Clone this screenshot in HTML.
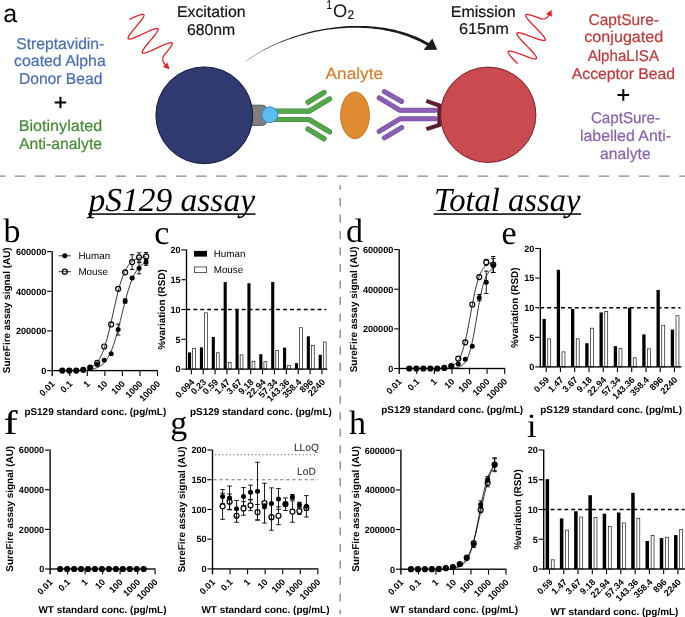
<!DOCTYPE html>
<html><head><meta charset="utf-8"><title>AlphaLISA assay figure</title>
<style>html,body{margin:0;padding:0;background:#fff;}svg{display:block;}</style></head><body>
<svg width="685" height="617" viewBox="0 0 685 617" font-family="'Liberation Sans', Arial, Helvetica, sans-serif" text-rendering="geometricPrecision">
<rect width="685" height="617" fill="#fff"/>
<text x="3.30" y="21.60" font-size="25" fill="#000">a</text>
<text x="16.30" y="48.70" font-size="15.7" fill="#4a6fb4" textLength="88.00" lengthAdjust="spacingAndGlyphs" stroke="#4a6fb4" stroke-width="0.22">Streptavidin-</text>
<text x="14.10" y="66.20" font-size="15.7" fill="#4a6fb4" textLength="91.60" lengthAdjust="spacingAndGlyphs" stroke="#4a6fb4" stroke-width="0.22">coated Alpha</text>
<text x="18.90" y="83.70" font-size="15.7" fill="#4a6fb4" textLength="83.50" lengthAdjust="spacingAndGlyphs" stroke="#4a6fb4" stroke-width="0.22">Donor Bead</text>
<text x="18.70" y="130.80" font-size="15.7" fill="#468a34" textLength="83.50" lengthAdjust="spacingAndGlyphs" stroke="#468a34" stroke-width="0.22">Biotinylated</text>
<text x="19.00" y="148.70" font-size="15.7" fill="#468a34" textLength="83.00" lengthAdjust="spacingAndGlyphs" stroke="#468a34" stroke-width="0.22">Anti-analyte</text>
<path d="M54.7,102.5h11.5M60.45,96.7v11.6" stroke="#000" stroke-width="2.0" fill="none"/>
<path d="M617.5,94.9h11.6M623.3,89.1v11.6" stroke="#000" stroke-width="2.0" fill="none"/>
<text x="176.90" y="17.10" font-size="15.7" fill="#151515" textLength="68.80" lengthAdjust="spacingAndGlyphs" stroke="#151515" stroke-width="0.22">Excitation</text>
<text x="187.00" y="34.60" font-size="15.7" fill="#151515" textLength="48.20" lengthAdjust="spacingAndGlyphs" stroke="#151515" stroke-width="0.22">680nm</text>
<text x="450.80" y="17.10" font-size="15.7" fill="#151515" textLength="64.80" lengthAdjust="spacingAndGlyphs" stroke="#151515" stroke-width="0.22">Emission</text>
<text x="458.90" y="34.40" font-size="15.7" fill="#151515" textLength="50.00" lengthAdjust="spacingAndGlyphs" stroke="#151515" stroke-width="0.22">615nm</text>
<text x="326.60" y="9.40" font-size="12.6" fill="#151515" textLength="5.40" lengthAdjust="spacingAndGlyphs" stroke="#151515" stroke-width="0.22">1</text>
<text x="332.90" y="16.50" font-size="18.3" fill="#151515">O</text>
<text x="347.40" y="19.40" font-size="12.6" fill="#151515" textLength="6.60" lengthAdjust="spacingAndGlyphs" stroke="#151515" stroke-width="0.22">2</text>
<text x="325.60" y="78.80" font-size="16.2" fill="#d67f2c" textLength="57.50" lengthAdjust="spacingAndGlyphs" stroke="#d67f2c" stroke-width="0.22">Analyte</text>
<text x="588.50" y="24.60" font-size="15.7" fill="#c03a3c" textLength="70.50" lengthAdjust="spacingAndGlyphs" stroke="#c03a3c" stroke-width="0.22">CaptSure-</text>
<text x="584.30" y="42.30" font-size="15.7" fill="#c03a3c" textLength="79.00" lengthAdjust="spacingAndGlyphs" stroke="#c03a3c" stroke-width="0.22">conjugated</text>
<text x="587.70" y="60.60" font-size="15.7" fill="#c03a3c" textLength="71.30" lengthAdjust="spacingAndGlyphs" stroke="#c03a3c" stroke-width="0.22">AlphaLISA</text>
<text x="571.80" y="78.50" font-size="15.7" fill="#c03a3c" textLength="103.30" lengthAdjust="spacingAndGlyphs" stroke="#c03a3c" stroke-width="0.22">Acceptor Bead</text>
<text x="590.90" y="122.90" font-size="15.7" fill="#8a62ae" textLength="69.20" lengthAdjust="spacingAndGlyphs" stroke="#8a62ae" stroke-width="0.22">CaptSure-</text>
<text x="579.90" y="140.80" font-size="15.7" fill="#8a62ae" textLength="91.20" lengthAdjust="spacingAndGlyphs" stroke="#8a62ae" stroke-width="0.22">labelled Anti-</text>
<text x="600.10" y="158.50" font-size="15.7" fill="#8a62ae" textLength="50.50" lengthAdjust="spacingAndGlyphs" stroke="#8a62ae" stroke-width="0.22">analyte</text>
<path d="M129.89,19.18 L131.20,18.58 L132.50,17.98 L133.77,17.41 L135.00,16.87 L136.18,16.36 L137.30,15.90 L138.36,15.49 L139.35,15.13 L140.25,14.83 L141.07,14.60 L141.79,14.44 L142.42,14.35 L142.94,14.34 L143.36,14.41 L143.67,14.56 L143.87,14.80 L143.97,15.11 L143.96,15.50 L143.85,15.97 L143.63,16.52 L143.32,17.14 L142.92,17.83 L142.43,18.59 L141.86,19.40 L141.23,20.27 L140.52,21.19 L139.77,22.15 L138.97,23.14 L138.13,24.16 L137.27,25.19 L136.39,26.24 L135.51,27.30 L134.63,28.34 L133.77,29.38 L132.94,30.39 L132.14,31.38 L131.39,32.33 L130.70,33.24 L130.07,34.11 L129.52,34.91 L129.04,35.66 L128.65,36.34 L128.35,36.95 L128.15,37.49 L128.05,37.95 L128.06,38.33 L128.17,38.63 L128.39,38.85 L128.72,38.99 L129.15,39.05 L129.69,39.03 L130.33,38.93 L131.07,38.76 L131.90,38.52 L132.82,38.21 L133.81,37.84 L134.88,37.42 L136.02,36.95 L137.21,36.44 L138.44,35.89 L139.71,35.32 L141.01,34.72 L142.33,34.11 L143.65,33.50 L144.97,32.89 L146.27,32.29 L147.55,31.72 L148.79,31.16 L149.99,30.65 L151.13,30.17 L152.21,29.74 L153.21,29.37 L154.14,29.05 L154.98,28.80 L155.73,28.62 L156.39,28.51 L156.94,28.48 L157.39,28.53 L157.73,28.65 L157.97,28.86 L158.10,29.15 L158.12,29.52 L158.03,29.97 L157.85,30.50 L157.56,31.10 L157.19,31.77 L156.72,32.51 L156.18,33.31 L155.56,34.16 L154.87,35.06 L154.13,36.01 L153.34,36.99 L152.51,38.01 L151.66,39.04 L150.78,40.08 L149.90,41.14 L149.02,42.19 L148.16,43.23 L147.32,44.25 L146.51,45.24 L145.75,46.21 L145.04,47.13 L144.39,48.01 L143.81,48.83 L143.31,49.59 L142.89,50.29 L142.57,50.92 L142.34,51.48 L142.21,51.97 L142.19,52.37 L142.27,52.69 L142.46,52.94 L142.76,53.10 L143.16,53.18 L143.67,53.18 L144.28,53.11 L144.99,52.96 L145.80,52.73 L146.69,52.45 L147.66,52.10 L148.71,51.69 L149.83,51.23 L151.00,50.73 L152.23,50.19 L153.49,49.63 L154.78,49.04 L156.09,48.43 L157.41,47.82 L158.73,47.21 L160.04,46.61 L161.33,46.02 L162.58,45.46 L163.79,44.93 L164.95,44.44 L166.05,44.00 L167.07,43.61 L168.03,43.28 L168.89,43.01 L169.67,42.81 L170.35,42.68 L170.94,42.62 L171.42,42.65 L171.79,42.75 L172.05,42.94 L172.21,43.20 L172.26,43.55 L172.21,43.98 L172.05,44.48 L171.80,45.06 L171.45,45.71 L171.01,46.43 L170.48,47.21 L169.88,48.05 L169.22,48.94 L168.49,49.88 L167.71,50.85 L166.90,51.85 L166.05,52.88 L165.18,53.93 L164.30,54.98 C161.73,58.04 162.63,62.23 165.46,65.05" fill="none" stroke="#ee1c25" stroke-width="1.3" stroke-linecap="round" stroke-linejoin="round"/>
<path d="M169.56,69.16 L167.44,62.51 L162.92,67.03 Z" fill="#ee1c25"/>
<path d="M517.15,63.30 L516.13,62.24 L515.12,61.20 L514.15,60.18 L513.22,59.19 L512.34,58.23 L511.51,57.31 L510.76,56.43 L510.09,55.61 L509.50,54.85 L509.01,54.14 L508.61,53.50 L508.32,52.93 L508.13,52.44 L508.06,52.01 L508.10,51.66 L508.25,51.39 L508.52,51.19 L508.90,51.07 L509.39,51.02 L509.98,51.04 L510.68,51.13 L511.48,51.28 L512.37,51.49 L513.34,51.76 L514.38,52.08 L515.50,52.44 L516.67,52.85 L517.89,53.28 L519.14,53.74 L520.42,54.21 L521.72,54.70 L523.03,55.19 L524.32,55.67 L525.60,56.15 L526.85,56.60 L528.07,57.03 L529.23,57.43 L530.33,57.79 L531.37,58.10 L532.33,58.36 L533.20,58.56 L533.98,58.71 L534.67,58.79 L535.25,58.80 L535.72,58.74 L536.08,58.60 L536.34,58.39 L536.47,58.11 L536.49,57.75 L536.40,57.31 L536.20,56.80 L535.90,56.22 L535.49,55.58 L534.98,54.86 L534.38,54.09 L533.69,53.26 L532.93,52.38 L532.10,51.45 L531.21,50.49 L530.27,49.49 L529.29,48.46 L528.28,47.42 L527.26,46.37 L526.23,45.31 L525.21,44.25 L524.20,43.21 L523.21,42.18 L522.27,41.18 L521.37,40.21 L520.53,39.28 L519.76,38.39 L519.06,37.55 L518.45,36.77 L517.93,36.05 L517.50,35.39 L517.18,34.80 L516.96,34.28 L516.86,33.84 L516.87,33.47 L516.99,33.17 L517.22,32.95 L517.57,32.81 L518.03,32.73 L518.59,32.74 L519.26,32.80 L520.03,32.94 L520.89,33.14 L521.84,33.39 L522.87,33.69 L523.96,34.05 L525.12,34.44 L526.32,34.86 L527.57,35.31 L528.84,35.78 L530.14,36.27 L531.44,36.76 L532.74,37.25 L534.03,37.72 L535.29,38.18 L536.51,38.62 L537.69,39.03 L538.81,39.40 L539.87,39.72 L540.85,40.00 L541.75,40.22 L542.56,40.38 L543.27,40.48 L543.88,40.51 L544.39,40.47 L544.78,40.36 L545.07,40.17 L545.23,39.91 L545.29,39.57 L545.23,39.15 L545.06,38.67 L544.78,38.11 L544.40,37.48 L543.92,36.78 L543.35,36.03 L542.68,35.21 L541.94,34.35 L541.13,33.43 L540.26,32.48 L539.33,31.49 L538.36,30.47 L537.37,29.43 L536.35,28.38 L535.32,27.32 L534.29,26.26 L533.27,25.22 L532.28,24.18 L531.33,23.17 L530.41,22.19 L529.56,21.25 L528.76,20.35 L528.05,19.49 L527.41,18.70 L526.86,17.96 L526.41,17.28 L526.05,16.67 L525.81,16.13 L525.67,15.67 L525.64,15.27 L525.73,14.96 L525.93,14.72 L526.25,14.55 L526.67,14.46 L527.21,14.44 L527.85,14.49 L528.59,14.60 L529.43,14.78 L530.35,15.02 L531.35,15.31 L532.43,15.65 L533.57,16.03 L534.76,16.45 L536.00,16.89 L537.27,17.36 L538.56,17.84 L539.86,18.33 C543.60,19.73 547.37,18.61 549.11,15.01" fill="none" stroke="#ee1c25" stroke-width="1.3" stroke-linecap="round" stroke-linejoin="round"/>
<path d="M551.62,9.78 L551.82,16.75 L546.05,13.98 Z" fill="#ee1c25"/>
<path d="M246.08,61.40 L248.26,59.81 L250.52,58.25 L252.83,56.71 L255.21,55.21 L257.65,53.73 L260.15,52.28 L262.70,50.87 L265.30,49.49 L267.95,48.14 L270.66,46.82 L273.41,45.54 L276.21,44.30 L279.05,43.09 L281.93,41.92 L284.86,40.79 L287.82,39.70 L290.82,38.65 L293.85,37.64 L296.92,36.68 L300.02,35.76 L303.15,34.88 L306.30,34.05 L309.48,33.27 L312.68,32.53 L315.91,31.85 L319.15,31.21 L322.41,30.62 L325.69,30.09 L328.98,29.60 L332.28,29.17 L335.60,28.80 L338.92,28.48 L342.25,28.22 L345.58,28.01 L348.92,27.87 L352.26,27.78 L355.59,27.75 L358.93,27.79 L362.26,27.88 L365.58,28.04 L368.89,28.27 L372.20,28.56 L375.49,28.91 L378.76,29.33 L382.02,29.82 L385.27,30.38 L388.49,31.01 L391.69,31.71 L394.87,32.47 L398.02,33.32 L401.14,34.23 L404.24,35.22 L407.30,36.29 L410.33,37.43 L413.33,38.65 L416.29,39.94 L419.21,41.31 L422.09,42.77 L424.93,44.30 L427.73,45.92 L429.27,43.28 L426.37,41.67 L423.43,40.15 L420.46,38.71 L417.44,37.35 L414.39,36.07 L411.31,34.88 L408.19,33.76 L405.05,32.73 L401.88,31.77 L398.68,30.88 L395.46,30.08 L392.21,29.35 L388.95,28.69 L385.67,28.10 L382.37,27.59 L379.05,27.14 L375.72,26.76 L372.38,26.46 L369.04,26.21 L365.68,26.04 L362.32,25.93 L358.95,25.88 L355.58,25.90 L352.21,25.97 L348.85,26.11 L345.48,26.31 L342.12,26.57 L338.77,26.88 L335.42,27.25 L332.09,27.68 L328.77,28.16 L325.46,28.69 L322.17,29.28 L318.90,29.91 L315.64,30.60 L312.41,31.34 L309.20,32.12 L306.01,32.96 L302.85,33.84 L299.72,34.76 L296.62,35.73 L293.56,36.74 L290.52,37.80 L287.52,38.89 L284.56,40.03 L281.64,41.20 L278.76,42.42 L275.93,43.67 L273.14,44.95 L270.39,46.28 L267.70,47.63 L265.05,49.02 L262.46,50.44 L259.92,51.90 L257.44,53.38 L255.01,54.89 L252.65,56.43 L250.34,57.99 L248.10,59.59 L245.92,61.20 Z" fill="#1a1a1a"/>
<path d="M437.2,49.8 L432.3,38.6 L423.6,50.0 Z" fill="#1a1a1a"/>
<path d="M250,105.2 H261.5 Q266.9,105.2 266.9,110.5 V120.1 Q266.9,125.4 261.5,125.4 H250 Z" fill="#7f7f7f" stroke="#4d4d4d" stroke-width="0.9"/>
<circle cx="204.3" cy="115.3" r="48.4" fill="#2e3a70" stroke="#151a40" stroke-width="1"/>
<path d="M274,111.2 H309 L329.5,98.9" fill="none" stroke="#3a8436" stroke-width="5.2" stroke-linecap="round" stroke-linejoin="round"/>
<path d="M274,111.2 H309 L329.5,98.9" fill="none" stroke="#54a84b" stroke-width="4.2" stroke-linecap="round" stroke-linejoin="round"/>
<path d="M274,119.5 H309 L329.5,131.8" fill="none" stroke="#3a8436" stroke-width="5.2" stroke-linecap="round" stroke-linejoin="round"/>
<path d="M274,119.5 H309 L329.5,131.8" fill="none" stroke="#54a84b" stroke-width="4.2" stroke-linecap="round" stroke-linejoin="round"/>
<path d="M308,102.2 L324,92.6" fill="none" stroke="#3a8436" stroke-width="5.2" stroke-linecap="round" stroke-linejoin="round"/>
<path d="M308,102.2 L324,92.6" fill="none" stroke="#54a84b" stroke-width="4.2" stroke-linecap="round" stroke-linejoin="round"/>
<path d="M308,129.0 L324,138.7" fill="none" stroke="#3a8436" stroke-width="5.2" stroke-linecap="round" stroke-linejoin="round"/>
<path d="M308,129.0 L324,138.7" fill="none" stroke="#54a84b" stroke-width="4.2" stroke-linecap="round" stroke-linejoin="round"/>
<circle cx="269.8" cy="114.7" r="7.9" fill="#5bbdf2" stroke="#3589cf" stroke-width="1"/>
<ellipse cx="355" cy="115.3" rx="14.4" ry="23.4" fill="#e08b32" stroke="#c6741f" stroke-width="0.9"/>
<path d="M379.2,97.8 L400,110.3 H435" fill="none" stroke="#6f4a99" stroke-width="5.0" stroke-linecap="round" stroke-linejoin="round"/>
<path d="M379.2,97.8 L400,110.3 H435" fill="none" stroke="#8d5fb4" stroke-width="4.0" stroke-linecap="round" stroke-linejoin="round"/>
<path d="M379.2,131.4 L400,118.8 H435" fill="none" stroke="#6f4a99" stroke-width="5.0" stroke-linecap="round" stroke-linejoin="round"/>
<path d="M379.2,131.4 L400,118.8 H435" fill="none" stroke="#8d5fb4" stroke-width="4.0" stroke-linecap="round" stroke-linejoin="round"/>
<path d="M384.4,91.6 L401.6,101.5" fill="none" stroke="#6f4a99" stroke-width="5.0" stroke-linecap="round" stroke-linejoin="round"/>
<path d="M384.4,91.6 L401.6,101.5" fill="none" stroke="#8d5fb4" stroke-width="4.0" stroke-linecap="round" stroke-linejoin="round"/>
<path d="M384.4,137.8 L401.6,127.6" fill="none" stroke="#6f4a99" stroke-width="5.0" stroke-linecap="round" stroke-linejoin="round"/>
<path d="M384.4,137.8 L401.6,127.6" fill="none" stroke="#8d5fb4" stroke-width="4.0" stroke-linecap="round" stroke-linejoin="round"/>
<path d="M426.3,100.8 L439.3,105.5 V125 L426.3,129.2" fill="none" stroke="#5a1c30" stroke-width="4" stroke-linejoin="miter"/>
<circle cx="488.2" cy="114.8" r="47.7" fill="#c94b50" stroke="#7a1f2a" stroke-width="1"/>
<line x1="-5.2" y1="176.1" x2="690" y2="176.1" stroke="#858585" stroke-width="1.45" stroke-dasharray="10.4 9.73"/>
<path d="M340.2,185.30V189.73M340.2,198.10V206.20M340.2,214.57V222.67M340.2,231.04V239.14M340.2,247.51V255.61M340.2,263.98V272.08M340.2,280.45V288.55M340.2,296.92V305.02M340.2,313.39V321.49M340.2,329.86V337.96M340.2,346.33V354.43M340.2,362.80V370.90M340.2,379.27V387.37M340.2,395.74V403.84M340.2,412.21V420.31M340.2,428.68V436.78M340.2,445.15V453.25M340.2,461.62V469.72M340.2,478.09V486.19M340.2,494.56V502.66M340.2,511.03V519.13M340.2,527.50V535.60M340.2,543.97V552.07M340.2,560.44V568.54M340.2,576.91V585.01M340.2,593.38V601.48M340.2,609.85V614.20" stroke="#8c8c8c" stroke-width="1.4" fill="none"/>
<text x="88.5" y="210.6" font-family="'Liberation Serif', 'Times New Roman', Times, serif" font-style="italic" font-size="33.5" textLength="166.5" lengthAdjust="spacingAndGlyphs">pS129 assay</text>
<rect x="88" y="213.3" width="167.5" height="1.5" fill="#000"/>
<text x="434" y="210.6" font-family="'Liberation Serif', 'Times New Roman', Times, serif" font-style="italic" font-size="33.5" textLength="146.5" lengthAdjust="spacingAndGlyphs">Total assay</text>
<rect x="433.5" y="213.3" width="147.5" height="1.5" fill="#000"/>
<text x="3.50" y="241.70" font-size="34" fill="#000" font-family="'Liberation Serif', 'Times New Roman', Times, serif">b</text>
<text x="154.30" y="244.00" font-size="34" fill="#000" font-family="'Liberation Serif', 'Times New Roman', Times, serif">c</text>
<text x="346.00" y="241.70" font-size="34" fill="#000" font-family="'Liberation Serif', 'Times New Roman', Times, serif">d</text>
<text x="501.40" y="244.00" font-size="34" fill="#000" font-family="'Liberation Serif', 'Times New Roman', Times, serif">e</text>
<text x="3.80" y="433.70" font-size="34" fill="#000" font-family="'Liberation Serif', 'Times New Roman', Times, serif" textLength="13.80" lengthAdjust="spacingAndGlyphs" stroke="#000" stroke-width="0.22">f</text>
<text x="170.20" y="433.80" font-size="34" fill="#000" font-family="'Liberation Serif', 'Times New Roman', Times, serif">g</text>
<text x="348.90" y="433.70" font-size="34" fill="#000" font-family="'Liberation Serif', 'Times New Roman', Times, serif">h</text>
<text x="526.90" y="436.80" font-size="34" fill="#000" font-family="'Liberation Serif', 'Times New Roman', Times, serif">i</text>
<rect x="51.53" y="251.05" width="1.35" height="120.25" fill="#000"/>
<rect x="51.50" y="369.93" width="106.55" height="1.35" fill="#000"/>
<rect x="47.10" y="370.05" width="4.40" height="1.1" fill="#000"/>
<text x="46.30" y="373.90" font-size="9.10" fill="#000" font-weight="bold" text-anchor="end" textLength="5.06" lengthAdjust="spacingAndGlyphs">0</text>
<rect x="47.10" y="330.38" width="4.40" height="1.1" fill="#000"/>
<text x="46.30" y="334.23" font-size="9.10" fill="#000" font-weight="bold" text-anchor="end" textLength="30.37" lengthAdjust="spacingAndGlyphs">200000</text>
<rect x="47.10" y="290.72" width="4.40" height="1.1" fill="#000"/>
<text x="46.30" y="294.57" font-size="9.10" fill="#000" font-weight="bold" text-anchor="end" textLength="30.37" lengthAdjust="spacingAndGlyphs">400000</text>
<rect x="47.10" y="251.05" width="4.40" height="1.1" fill="#000"/>
<text x="46.30" y="254.90" font-size="9.10" fill="#000" font-weight="bold" text-anchor="end" textLength="30.37" lengthAdjust="spacingAndGlyphs">600000</text>
<rect x="51.53" y="371.20" width="1.35" height="4.80" fill="#000"/>
<text transform="translate(55.40,384.40) rotate(-45)" font-size="9.00" font-weight="bold" text-anchor="end" textLength="17.52" lengthAdjust="spacingAndGlyphs">0.01</text>
<rect x="69.20" y="371.20" width="1.1" height="4.80" fill="#000"/>
<text transform="translate(72.95,384.40) rotate(-45)" font-size="9.00" font-weight="bold" text-anchor="end" textLength="12.51" lengthAdjust="spacingAndGlyphs">0.1</text>
<rect x="86.75" y="371.20" width="1.1" height="4.80" fill="#000"/>
<text transform="translate(90.50,384.40) rotate(-45)" font-size="9.00" font-weight="bold" text-anchor="end" textLength="5.01" lengthAdjust="spacingAndGlyphs">1</text>
<rect x="104.30" y="371.20" width="1.1" height="4.80" fill="#000"/>
<text transform="translate(108.05,384.40) rotate(-45)" font-size="9.00" font-weight="bold" text-anchor="end" textLength="10.01" lengthAdjust="spacingAndGlyphs">10</text>
<rect x="121.85" y="371.20" width="1.1" height="4.80" fill="#000"/>
<text transform="translate(125.60,384.40) rotate(-45)" font-size="9.00" font-weight="bold" text-anchor="end" textLength="15.02" lengthAdjust="spacingAndGlyphs">100</text>
<rect x="139.40" y="371.20" width="1.1" height="4.80" fill="#000"/>
<text transform="translate(143.15,384.40) rotate(-45)" font-size="9.00" font-weight="bold" text-anchor="end" textLength="20.02" lengthAdjust="spacingAndGlyphs">1000</text>
<rect x="156.95" y="371.20" width="1.1" height="4.80" fill="#000"/>
<text transform="translate(160.70,384.40) rotate(-45)" font-size="9.00" font-weight="bold" text-anchor="end" textLength="25.03" lengthAdjust="spacingAndGlyphs">10000</text>
<text transform="translate(10.10,310.30) rotate(-90)" font-size="9.93" font-weight="bold" text-anchor="middle" textLength="125.83" lengthAdjust="spacingAndGlyphs">SureFire assay signal (AU)</text>
<text x="24.40" y="414.60" font-size="9.93" fill="#000" font-weight="bold" textLength="141.81" lengthAdjust="spacingAndGlyphs">pS129 standard conc. (pg/mL)</text>
<path d="M118.16,287.80V289.80M115.96,287.80h4.40M115.96,289.80h4.40" fill="none" stroke="#000" stroke-width="0.9"/>
<path d="M125.15,271.30V273.30M122.95,271.30h4.40M122.95,273.30h4.40" fill="none" stroke="#000" stroke-width="0.9"/>
<path d="M132.13,254.70V269.50M129.93,254.70h4.40M129.93,269.50h4.40" fill="none" stroke="#000" stroke-width="0.9"/>
<path d="M139.11,252.90V261.90M136.91,252.90h4.40M136.91,261.90h4.40" fill="none" stroke="#000" stroke-width="0.9"/>
<path d="M146.10,252.40V260.40M143.90,252.40h4.40M143.90,260.40h4.40" fill="none" stroke="#000" stroke-width="0.9"/>
<circle cx="62.29" cy="370.60" r="2.5" fill="#fff" stroke="#000" stroke-width="1.2"/>
<circle cx="69.27" cy="370.60" r="2.5" fill="#fff" stroke="#000" stroke-width="1.2"/>
<circle cx="76.26" cy="370.60" r="2.5" fill="#fff" stroke="#000" stroke-width="1.2"/>
<circle cx="83.24" cy="369.80" r="2.5" fill="#fff" stroke="#000" stroke-width="1.2"/>
<circle cx="90.23" cy="367.60" r="2.5" fill="#fff" stroke="#000" stroke-width="1.2"/>
<circle cx="97.21" cy="362.80" r="2.5" fill="#fff" stroke="#000" stroke-width="1.2"/>
<circle cx="104.19" cy="346.50" r="2.5" fill="#fff" stroke="#000" stroke-width="1.2"/>
<circle cx="111.18" cy="324.40" r="2.5" fill="#fff" stroke="#000" stroke-width="1.2"/>
<circle cx="118.16" cy="288.80" r="2.5" fill="#fff" stroke="#000" stroke-width="1.2"/>
<circle cx="125.15" cy="272.30" r="2.5" fill="#fff" stroke="#000" stroke-width="1.2"/>
<circle cx="132.13" cy="262.10" r="2.5" fill="#fff" stroke="#000" stroke-width="1.2"/>
<circle cx="139.11" cy="257.40" r="2.5" fill="#fff" stroke="#000" stroke-width="1.2"/>
<circle cx="146.10" cy="256.40" r="2.5" fill="#fff" stroke="#000" stroke-width="1.2"/>
<path d="M87.30,369.88 L88.03,369.80 L88.77,369.71 L89.50,369.61 L90.24,369.50 L90.97,369.38 L91.71,369.24 L92.44,369.09 L93.18,368.92 L93.91,368.73 L94.65,368.53 L95.38,368.29 L96.12,368.04 L96.85,367.76 L97.59,367.44 L98.32,367.10 L99.06,366.71 L99.79,366.29 L100.53,365.82 L101.26,365.30 L102.00,364.73 L102.73,364.11 L103.47,363.42 L104.20,362.66 L104.94,361.83 L105.67,360.92 L106.41,359.93 L107.14,358.85 L107.88,357.67 L108.61,356.39 L109.35,355.00 L110.08,353.50 L110.82,351.89 L111.55,350.16 L112.29,348.30 L113.02,346.32 L113.76,344.22 L114.49,342.00 L115.23,339.65 L115.96,337.19 L116.70,334.63 L117.43,331.96 L118.17,329.20 L118.90,326.37 L119.64,323.48 L120.37,320.53 L121.11,317.56 L121.84,314.56 L122.58,311.57 L123.31,308.60 L124.05,305.67 L124.78,302.78 L125.52,299.97 L126.25,297.23 L126.99,294.58 L127.72,292.04 L128.46,289.61 L129.19,287.29 L129.93,285.09 L130.66,283.01 L131.40,281.06 L132.13,279.23 L132.87,277.52 L133.60,275.94 L134.34,274.46 L135.07,273.10 L135.81,271.84 L136.54,270.68 L137.28,269.62 L138.01,268.65 L138.75,267.75 L139.48,266.94 L140.22,266.20 L140.95,265.52 L141.69,264.91 L142.42,264.35 L143.16,263.85 L143.89,263.39 L144.63,262.97 L145.36,262.60 L146.10,262.26" fill="none" stroke="#000" stroke-width="0.8"/>
<path d="M87.30,368.74 L88.03,368.52 L88.77,368.26 L89.50,367.98 L90.24,367.66 L90.97,367.31 L91.71,366.91 L92.44,366.47 L93.18,365.98 L93.91,365.43 L94.65,364.82 L95.38,364.15 L96.12,363.39 L96.85,362.56 L97.59,361.64 L98.32,360.63 L99.06,359.51 L99.79,358.28 L100.53,356.93 L101.26,355.46 L102.00,353.86 L102.73,352.12 L103.47,350.23 L104.20,348.20 L104.94,346.01 L105.67,343.68 L106.41,341.19 L107.14,338.57 L107.88,335.80 L108.61,332.90 L109.35,329.89 L110.08,326.77 L110.82,323.56 L111.55,320.29 L112.29,316.97 L113.02,313.63 L113.76,310.28 L114.49,306.96 L115.23,303.68 L115.96,300.46 L116.70,297.33 L117.43,294.30 L118.17,291.39 L118.90,288.60 L119.64,285.95 L120.37,283.45 L121.11,281.09 L121.84,278.88 L122.58,276.83 L123.31,274.92 L124.05,273.16 L124.78,271.53 L125.52,270.04 L126.25,268.68 L126.99,267.43 L127.72,266.30 L128.46,265.27 L129.19,264.34 L129.93,263.49 L130.66,262.73 L131.40,262.04 L132.13,261.42 L132.87,260.87 L133.60,260.37 L134.34,259.92 L135.07,259.52 L135.81,259.16 L136.54,258.83 L137.28,258.55 L138.01,258.29 L138.75,258.06 L139.48,257.85 L140.22,257.67 L140.95,257.51 L141.69,257.36 L142.42,257.23 L143.16,257.11 L143.89,257.01 L144.63,256.92 L145.36,256.84 L146.10,256.76" fill="none" stroke="#000" stroke-width="0.8"/>
<path d="M118.16,324.10V335.10M115.96,324.10h4.40M115.96,335.10h4.40" fill="none" stroke="#000" stroke-width="0.9"/>
<path d="M125.15,298.80V303.20M122.95,298.80h4.40M122.95,303.20h4.40" fill="none" stroke="#000" stroke-width="0.9"/>
<path d="M132.13,276.80V279.20M129.93,276.80h4.40M129.93,279.20h4.40" fill="none" stroke="#000" stroke-width="0.9"/>
<path d="M139.11,262.70V273.90M136.91,262.70h4.40M136.91,273.90h4.40" fill="none" stroke="#000" stroke-width="0.9"/>
<path d="M146.10,259.30V265.30M143.90,259.30h4.40M143.90,265.30h4.40" fill="none" stroke="#000" stroke-width="0.9"/>
<circle cx="62.29" cy="370.60" r="2.5" fill="#000"/>
<circle cx="69.27" cy="370.60" r="2.5" fill="#000"/>
<circle cx="76.26" cy="370.60" r="2.5" fill="#000"/>
<circle cx="83.24" cy="369.80" r="2.5" fill="#000"/>
<circle cx="90.23" cy="367.70" r="2.5" fill="#000"/>
<circle cx="97.21" cy="364.60" r="2.5" fill="#000"/>
<circle cx="104.19" cy="360.20" r="2.5" fill="#000"/>
<circle cx="111.18" cy="353.70" r="2.5" fill="#000"/>
<circle cx="118.16" cy="329.60" r="2.5" fill="#000"/>
<circle cx="125.15" cy="301.00" r="2.5" fill="#000"/>
<circle cx="132.13" cy="278.00" r="2.5" fill="#000"/>
<circle cx="139.11" cy="268.30" r="2.5" fill="#000"/>
<circle cx="146.10" cy="262.30" r="2.5" fill="#000"/>
<circle cx="64.80" cy="271.70" r="2.5" fill="#fff" stroke="#000" stroke-width="1.2"/>
<path d="M58.7,255.8H70.8M58.7,271.7H70.8" stroke="#000" stroke-width="0.8"/>
<circle cx="64.80" cy="255.80" r="2.5" fill="#000"/>
<text x="78.40" y="259.20" font-size="9.85" fill="#000" textLength="31.75" lengthAdjust="spacingAndGlyphs">Human</text>
<text x="78.40" y="275.10" font-size="9.85" fill="#000" textLength="29.57" lengthAdjust="spacingAndGlyphs">Mouse</text>
<rect x="398.52" y="249.05" width="1.35" height="120.15" fill="#000"/>
<rect x="398.50" y="367.82" width="106.73" height="1.35" fill="#000"/>
<rect x="394.10" y="367.95" width="4.40" height="1.1" fill="#000"/>
<text x="393.30" y="371.80" font-size="9.10" fill="#000" font-weight="bold" text-anchor="end" textLength="5.06" lengthAdjust="spacingAndGlyphs">0</text>
<rect x="394.10" y="328.32" width="4.40" height="1.1" fill="#000"/>
<text x="393.30" y="332.17" font-size="9.10" fill="#000" font-weight="bold" text-anchor="end" textLength="30.37" lengthAdjust="spacingAndGlyphs">200000</text>
<rect x="394.10" y="288.68" width="4.40" height="1.1" fill="#000"/>
<text x="393.30" y="292.53" font-size="9.10" fill="#000" font-weight="bold" text-anchor="end" textLength="30.37" lengthAdjust="spacingAndGlyphs">400000</text>
<rect x="394.10" y="249.05" width="4.40" height="1.1" fill="#000"/>
<text x="393.30" y="252.90" font-size="9.10" fill="#000" font-weight="bold" text-anchor="end" textLength="30.37" lengthAdjust="spacingAndGlyphs">600000</text>
<rect x="398.52" y="369.10" width="1.35" height="4.80" fill="#000"/>
<text transform="translate(402.40,382.30) rotate(-45)" font-size="9.00" font-weight="bold" text-anchor="end" textLength="17.52" lengthAdjust="spacingAndGlyphs">0.01</text>
<rect x="416.23" y="369.10" width="1.1" height="4.80" fill="#000"/>
<text transform="translate(419.98,382.30) rotate(-45)" font-size="9.00" font-weight="bold" text-anchor="end" textLength="12.51" lengthAdjust="spacingAndGlyphs">0.1</text>
<rect x="433.81" y="369.10" width="1.1" height="4.80" fill="#000"/>
<text transform="translate(437.56,382.30) rotate(-45)" font-size="9.00" font-weight="bold" text-anchor="end" textLength="5.01" lengthAdjust="spacingAndGlyphs">1</text>
<rect x="451.39" y="369.10" width="1.1" height="4.80" fill="#000"/>
<text transform="translate(455.14,382.30) rotate(-45)" font-size="9.00" font-weight="bold" text-anchor="end" textLength="10.01" lengthAdjust="spacingAndGlyphs">10</text>
<rect x="468.97" y="369.10" width="1.1" height="4.80" fill="#000"/>
<text transform="translate(472.72,382.30) rotate(-45)" font-size="9.00" font-weight="bold" text-anchor="end" textLength="15.02" lengthAdjust="spacingAndGlyphs">100</text>
<rect x="486.55" y="369.10" width="1.1" height="4.80" fill="#000"/>
<text transform="translate(490.30,382.30) rotate(-45)" font-size="9.00" font-weight="bold" text-anchor="end" textLength="20.02" lengthAdjust="spacingAndGlyphs">1000</text>
<rect x="504.13" y="369.10" width="1.1" height="4.80" fill="#000"/>
<text transform="translate(507.88,382.30) rotate(-45)" font-size="9.00" font-weight="bold" text-anchor="end" textLength="25.03" lengthAdjust="spacingAndGlyphs">10000</text>
<text transform="translate(357.30,309.35) rotate(-90)" font-size="9.93" font-weight="bold" text-anchor="middle" textLength="125.83" lengthAdjust="spacingAndGlyphs">SureFire assay signal (AU)</text>
<text x="381.30" y="412.70" font-size="9.93" fill="#000" font-weight="bold" textLength="141.81" lengthAdjust="spacingAndGlyphs">pS129 standard conc. (pg/mL)</text>
<path d="M472.27,303.50V305.50M470.07,303.50h4.40M470.07,305.50h4.40" fill="none" stroke="#000" stroke-width="0.9"/>
<path d="M479.27,276.10V278.10M477.07,276.10h4.40M477.07,278.10h4.40" fill="none" stroke="#000" stroke-width="0.9"/>
<path d="M486.26,259.30V265.30M484.06,259.30h4.40M484.06,265.30h4.40" fill="none" stroke="#000" stroke-width="0.9"/>
<path d="M493.26,256.50V272.50M491.06,256.50h4.40M491.06,272.50h4.40" fill="none" stroke="#000" stroke-width="0.9"/>
<circle cx="409.31" cy="368.50" r="2.5" fill="#fff" stroke="#000" stroke-width="1.2"/>
<circle cx="416.30" cy="368.50" r="2.5" fill="#fff" stroke="#000" stroke-width="1.2"/>
<circle cx="423.30" cy="368.50" r="2.5" fill="#fff" stroke="#000" stroke-width="1.2"/>
<circle cx="430.30" cy="368.50" r="2.5" fill="#fff" stroke="#000" stroke-width="1.2"/>
<circle cx="437.29" cy="368.50" r="2.5" fill="#fff" stroke="#000" stroke-width="1.2"/>
<circle cx="444.29" cy="367.90" r="2.5" fill="#fff" stroke="#000" stroke-width="1.2"/>
<circle cx="451.28" cy="366.20" r="2.5" fill="#fff" stroke="#000" stroke-width="1.2"/>
<circle cx="458.28" cy="358.70" r="2.5" fill="#fff" stroke="#000" stroke-width="1.2"/>
<circle cx="465.27" cy="342.30" r="2.5" fill="#fff" stroke="#000" stroke-width="1.2"/>
<circle cx="472.27" cy="304.50" r="2.5" fill="#fff" stroke="#000" stroke-width="1.2"/>
<circle cx="479.27" cy="277.10" r="2.5" fill="#fff" stroke="#000" stroke-width="1.2"/>
<circle cx="486.26" cy="262.30" r="2.5" fill="#fff" stroke="#000" stroke-width="1.2"/>
<circle cx="493.26" cy="264.50" r="2.5" fill="#fff" stroke="#000" stroke-width="1.2"/>
<path d="M450.18,368.30 L450.72,368.28 L451.26,368.25 L451.80,368.21 L452.34,368.17 L452.87,368.13 L453.41,368.08 L453.95,368.02 L454.49,367.96 L455.03,367.89 L455.57,367.80 L456.10,367.71 L456.64,367.60 L457.18,367.48 L457.72,367.35 L458.26,367.19 L458.80,367.02 L459.34,366.82 L459.87,366.60 L460.41,366.35 L460.95,366.06 L461.49,365.74 L462.03,365.38 L462.57,364.97 L463.10,364.51 L463.64,364.00 L464.18,363.42 L464.72,362.77 L465.26,362.04 L465.80,361.23 L466.34,360.32 L466.87,359.32 L467.41,358.20 L467.95,356.96 L468.49,355.60 L469.03,354.10 L469.57,352.45 L470.10,350.66 L470.64,348.72 L471.18,346.61 L471.72,344.35 L472.26,341.93 L472.80,339.36 L473.34,336.65 L473.87,333.81 L474.41,330.85 L474.95,327.79 L475.49,324.65 L476.03,321.46 L476.57,318.23 L477.10,315.00 L477.64,311.79 L478.18,308.63 L478.72,305.54 L479.26,302.54 L479.80,299.65 L480.33,296.88 L480.87,294.26 L481.41,291.78 L481.95,289.46 L482.49,287.30 L483.03,285.29 L483.57,283.44 L484.10,281.74 L484.64,280.18 L485.18,278.77 L485.72,277.48 L486.26,276.32 L486.80,275.27 L487.33,274.33 L487.87,273.48 L488.41,272.72 L488.95,272.04 L489.49,271.44 L490.03,270.90 L490.57,270.42 L491.10,269.99 L491.64,269.61 L492.18,269.28 L492.72,268.98 L493.26,268.72" fill="none" stroke="#000" stroke-width="0.8"/>
<path d="M450.18,366.90 L450.72,366.72 L451.26,366.51 L451.80,366.28 L452.34,366.03 L452.87,365.74 L453.41,365.43 L453.95,365.08 L454.49,364.69 L455.03,364.26 L455.57,363.78 L456.10,363.25 L456.64,362.67 L457.18,362.02 L457.72,361.31 L458.26,360.53 L458.80,359.67 L459.34,358.72 L459.87,357.69 L460.41,356.55 L460.95,355.32 L461.49,353.98 L462.03,352.52 L462.57,350.95 L463.10,349.25 L463.64,347.43 L464.18,345.48 L464.72,343.41 L465.26,341.21 L465.80,338.88 L466.34,336.43 L466.87,333.88 L467.41,331.22 L467.95,328.47 L468.49,325.64 L469.03,322.75 L469.57,319.81 L470.10,316.84 L470.64,313.85 L471.18,310.88 L471.72,307.93 L472.26,305.02 L472.80,302.17 L473.34,299.39 L473.87,296.71 L474.41,294.12 L474.95,291.64 L475.49,289.28 L476.03,287.04 L476.57,284.93 L477.10,282.94 L477.64,281.09 L478.18,279.35 L478.72,277.74 L479.26,276.26 L479.80,274.88 L480.33,273.62 L480.87,272.45 L481.41,271.39 L481.95,270.42 L482.49,269.54 L483.03,268.73 L483.57,268.00 L484.10,267.33 L484.64,266.73 L485.18,266.19 L485.72,265.70 L486.26,265.25 L486.80,264.85 L487.33,264.49 L487.87,264.16 L488.41,263.87 L488.95,263.61 L489.49,263.37 L490.03,263.16 L490.57,262.97 L491.10,262.80 L491.64,262.64 L492.18,262.51 L492.72,262.38 L493.26,262.27" fill="none" stroke="#000" stroke-width="0.8"/>
<path d="M479.27,294.50V300.90M477.07,294.50h4.40M477.07,300.90h4.40" fill="none" stroke="#000" stroke-width="0.9"/>
<path d="M486.26,271.10V293.50M484.06,271.10h4.40M484.06,293.50h4.40" fill="none" stroke="#000" stroke-width="0.9"/>
<path d="M493.26,258.40V272.40M491.06,258.40h4.40M491.06,272.40h4.40" fill="none" stroke="#000" stroke-width="0.9"/>
<circle cx="409.31" cy="368.50" r="2.5" fill="#000"/>
<circle cx="416.30" cy="368.50" r="2.5" fill="#000"/>
<circle cx="423.30" cy="368.50" r="2.5" fill="#000"/>
<circle cx="430.30" cy="368.50" r="2.5" fill="#000"/>
<circle cx="437.29" cy="368.50" r="2.5" fill="#000"/>
<circle cx="444.29" cy="367.90" r="2.5" fill="#000"/>
<circle cx="451.28" cy="366.30" r="2.5" fill="#000"/>
<circle cx="458.28" cy="363.90" r="2.5" fill="#000"/>
<circle cx="465.27" cy="359.30" r="2.5" fill="#000"/>
<circle cx="472.27" cy="346.30" r="2.5" fill="#000"/>
<circle cx="479.27" cy="297.70" r="2.5" fill="#000"/>
<circle cx="486.26" cy="282.30" r="2.5" fill="#000"/>
<circle cx="493.26" cy="265.40" r="2.5" fill="#000"/>
<rect x="49.43" y="449.55" width="1.35" height="120.15" fill="#000"/>
<rect x="49.40" y="568.33" width="106.25" height="1.35" fill="#000"/>
<rect x="45.00" y="568.45" width="4.40" height="1.1" fill="#000"/>
<text x="44.20" y="572.30" font-size="9.10" fill="#000" font-weight="bold" text-anchor="end" textLength="5.06" lengthAdjust="spacingAndGlyphs">0</text>
<rect x="45.00" y="528.82" width="4.40" height="1.1" fill="#000"/>
<text x="44.20" y="532.67" font-size="9.10" fill="#000" font-weight="bold" text-anchor="end" textLength="25.31" lengthAdjust="spacingAndGlyphs">20000</text>
<rect x="45.00" y="489.18" width="4.40" height="1.1" fill="#000"/>
<text x="44.20" y="493.03" font-size="9.10" fill="#000" font-weight="bold" text-anchor="end" textLength="25.31" lengthAdjust="spacingAndGlyphs">40000</text>
<rect x="45.00" y="449.55" width="4.40" height="1.1" fill="#000"/>
<text x="44.20" y="453.40" font-size="9.10" fill="#000" font-weight="bold" text-anchor="end" textLength="25.31" lengthAdjust="spacingAndGlyphs">60000</text>
<rect x="49.43" y="569.60" width="1.35" height="4.80" fill="#000"/>
<text transform="translate(53.30,582.80) rotate(-45)" font-size="9.00" font-weight="bold" text-anchor="end" textLength="17.52" lengthAdjust="spacingAndGlyphs">0.01</text>
<rect x="67.05" y="569.60" width="1.1" height="4.80" fill="#000"/>
<text transform="translate(70.80,582.80) rotate(-45)" font-size="9.00" font-weight="bold" text-anchor="end" textLength="12.51" lengthAdjust="spacingAndGlyphs">0.1</text>
<rect x="84.55" y="569.60" width="1.1" height="4.80" fill="#000"/>
<text transform="translate(88.30,582.80) rotate(-45)" font-size="9.00" font-weight="bold" text-anchor="end" textLength="5.01" lengthAdjust="spacingAndGlyphs">1</text>
<rect x="102.05" y="569.60" width="1.1" height="4.80" fill="#000"/>
<text transform="translate(105.80,582.80) rotate(-45)" font-size="9.00" font-weight="bold" text-anchor="end" textLength="10.01" lengthAdjust="spacingAndGlyphs">10</text>
<rect x="119.55" y="569.60" width="1.1" height="4.80" fill="#000"/>
<text transform="translate(123.30,582.80) rotate(-45)" font-size="9.00" font-weight="bold" text-anchor="end" textLength="15.02" lengthAdjust="spacingAndGlyphs">100</text>
<rect x="137.05" y="569.60" width="1.1" height="4.80" fill="#000"/>
<text transform="translate(140.80,582.80) rotate(-45)" font-size="9.00" font-weight="bold" text-anchor="end" textLength="20.02" lengthAdjust="spacingAndGlyphs">1000</text>
<rect x="154.55" y="569.60" width="1.1" height="4.80" fill="#000"/>
<text transform="translate(158.30,582.80) rotate(-45)" font-size="9.00" font-weight="bold" text-anchor="end" textLength="25.03" lengthAdjust="spacingAndGlyphs">10000</text>
<text transform="translate(13.10,508.75) rotate(-90)" font-size="9.93" font-weight="bold" text-anchor="middle" textLength="125.83" lengthAdjust="spacingAndGlyphs">SureFire assay signal (AU)</text>
<text x="38.50" y="613.40" font-size="9.93" fill="#000" font-weight="bold" textLength="127.99" lengthAdjust="spacingAndGlyphs">WT standard conc. (pg/mL)</text>
<circle cx="60.16" cy="569.00" r="2.5" fill="#fff" stroke="#000" stroke-width="1.2"/>
<circle cx="67.13" cy="569.00" r="2.5" fill="#fff" stroke="#000" stroke-width="1.2"/>
<circle cx="74.09" cy="569.00" r="2.5" fill="#fff" stroke="#000" stroke-width="1.2"/>
<circle cx="81.05" cy="569.00" r="2.5" fill="#fff" stroke="#000" stroke-width="1.2"/>
<circle cx="88.02" cy="569.00" r="2.5" fill="#fff" stroke="#000" stroke-width="1.2"/>
<circle cx="94.98" cy="569.00" r="2.5" fill="#fff" stroke="#000" stroke-width="1.2"/>
<circle cx="101.95" cy="569.00" r="2.5" fill="#fff" stroke="#000" stroke-width="1.2"/>
<circle cx="108.91" cy="569.00" r="2.5" fill="#fff" stroke="#000" stroke-width="1.2"/>
<circle cx="115.87" cy="569.00" r="2.5" fill="#fff" stroke="#000" stroke-width="1.2"/>
<circle cx="122.84" cy="569.00" r="2.5" fill="#fff" stroke="#000" stroke-width="1.2"/>
<circle cx="129.80" cy="569.00" r="2.5" fill="#fff" stroke="#000" stroke-width="1.2"/>
<circle cx="136.77" cy="569.00" r="2.5" fill="#fff" stroke="#000" stroke-width="1.2"/>
<circle cx="143.73" cy="569.00" r="2.5" fill="#fff" stroke="#000" stroke-width="1.2"/>
<circle cx="60.16" cy="569.00" r="2.5" fill="#000"/>
<circle cx="67.13" cy="569.00" r="2.5" fill="#000"/>
<circle cx="74.09" cy="569.00" r="2.5" fill="#000"/>
<circle cx="81.05" cy="569.00" r="2.5" fill="#000"/>
<circle cx="88.02" cy="569.00" r="2.5" fill="#000"/>
<circle cx="94.98" cy="569.00" r="2.5" fill="#000"/>
<circle cx="101.95" cy="569.00" r="2.5" fill="#000"/>
<circle cx="108.91" cy="569.00" r="2.5" fill="#000"/>
<circle cx="115.87" cy="569.00" r="2.5" fill="#000"/>
<circle cx="122.84" cy="569.00" r="2.5" fill="#000"/>
<circle cx="129.80" cy="569.00" r="2.5" fill="#000"/>
<circle cx="136.77" cy="569.00" r="2.5" fill="#000"/>
<circle cx="143.73" cy="569.00" r="2.5" fill="#000"/>
<rect x="400.22" y="449.75" width="1.35" height="120.15" fill="#000"/>
<rect x="400.20" y="568.53" width="106.37" height="1.35" fill="#000"/>
<rect x="395.80" y="568.65" width="4.40" height="1.1" fill="#000"/>
<text x="395.00" y="572.50" font-size="9.10" fill="#000" font-weight="bold" text-anchor="end" textLength="5.06" lengthAdjust="spacingAndGlyphs">0</text>
<rect x="395.80" y="529.02" width="4.40" height="1.1" fill="#000"/>
<text x="395.00" y="532.87" font-size="9.10" fill="#000" font-weight="bold" text-anchor="end" textLength="30.37" lengthAdjust="spacingAndGlyphs">200000</text>
<rect x="395.80" y="489.38" width="4.40" height="1.1" fill="#000"/>
<text x="395.00" y="493.23" font-size="9.10" fill="#000" font-weight="bold" text-anchor="end" textLength="30.37" lengthAdjust="spacingAndGlyphs">400000</text>
<rect x="395.80" y="449.75" width="4.40" height="1.1" fill="#000"/>
<text x="395.00" y="453.60" font-size="9.10" fill="#000" font-weight="bold" text-anchor="end" textLength="30.37" lengthAdjust="spacingAndGlyphs">600000</text>
<rect x="400.22" y="569.80" width="1.35" height="4.80" fill="#000"/>
<text transform="translate(404.10,583.00) rotate(-45)" font-size="9.00" font-weight="bold" text-anchor="end" textLength="17.52" lengthAdjust="spacingAndGlyphs">0.01</text>
<rect x="417.87" y="569.80" width="1.1" height="4.80" fill="#000"/>
<text transform="translate(421.62,583.00) rotate(-45)" font-size="9.00" font-weight="bold" text-anchor="end" textLength="12.51" lengthAdjust="spacingAndGlyphs">0.1</text>
<rect x="435.39" y="569.80" width="1.1" height="4.80" fill="#000"/>
<text transform="translate(439.14,583.00) rotate(-45)" font-size="9.00" font-weight="bold" text-anchor="end" textLength="5.01" lengthAdjust="spacingAndGlyphs">1</text>
<rect x="452.91" y="569.80" width="1.1" height="4.80" fill="#000"/>
<text transform="translate(456.66,583.00) rotate(-45)" font-size="9.00" font-weight="bold" text-anchor="end" textLength="10.01" lengthAdjust="spacingAndGlyphs">10</text>
<rect x="470.43" y="569.80" width="1.1" height="4.80" fill="#000"/>
<text transform="translate(474.18,583.00) rotate(-45)" font-size="9.00" font-weight="bold" text-anchor="end" textLength="15.02" lengthAdjust="spacingAndGlyphs">100</text>
<rect x="487.95" y="569.80" width="1.1" height="4.80" fill="#000"/>
<text transform="translate(491.70,583.00) rotate(-45)" font-size="9.00" font-weight="bold" text-anchor="end" textLength="20.02" lengthAdjust="spacingAndGlyphs">1000</text>
<rect x="505.47" y="569.80" width="1.1" height="4.80" fill="#000"/>
<text transform="translate(509.22,583.00) rotate(-45)" font-size="9.00" font-weight="bold" text-anchor="end" textLength="25.03" lengthAdjust="spacingAndGlyphs">10000</text>
<text transform="translate(358.60,508.95) rotate(-90)" font-size="9.93" font-weight="bold" text-anchor="middle" textLength="125.83" lengthAdjust="spacingAndGlyphs">SureFire assay signal (AU)</text>
<text x="390.00" y="613.40" font-size="9.93" fill="#000" font-weight="bold" textLength="127.99" lengthAdjust="spacingAndGlyphs">WT standard conc. (pg/mL)</text>
<path d="M473.72,541.40V545.40M471.52,541.40h4.40M471.52,545.40h4.40" fill="none" stroke="#000" stroke-width="0.9"/>
<path d="M480.69,506.80V512.80M478.49,506.80h4.40M478.49,512.80h4.40" fill="none" stroke="#000" stroke-width="0.9"/>
<path d="M487.66,478.80V486.80M485.46,478.80h4.40M485.46,486.80h4.40" fill="none" stroke="#000" stroke-width="0.9"/>
<path d="M494.64,458.70V470.70M492.44,458.70h4.40M492.44,470.70h4.40" fill="none" stroke="#000" stroke-width="0.9"/>
<circle cx="410.97" cy="569.20" r="2.5" fill="#fff" stroke="#000" stroke-width="1.2"/>
<circle cx="417.95" cy="569.20" r="2.5" fill="#fff" stroke="#000" stroke-width="1.2"/>
<circle cx="424.92" cy="569.20" r="2.5" fill="#fff" stroke="#000" stroke-width="1.2"/>
<circle cx="431.89" cy="569.20" r="2.5" fill="#fff" stroke="#000" stroke-width="1.2"/>
<circle cx="438.86" cy="568.90" r="2.5" fill="#fff" stroke="#000" stroke-width="1.2"/>
<circle cx="445.83" cy="568.20" r="2.5" fill="#fff" stroke="#000" stroke-width="1.2"/>
<circle cx="452.80" cy="567.00" r="2.5" fill="#fff" stroke="#000" stroke-width="1.2"/>
<circle cx="459.78" cy="564.00" r="2.5" fill="#fff" stroke="#000" stroke-width="1.2"/>
<circle cx="466.75" cy="557.70" r="2.5" fill="#fff" stroke="#000" stroke-width="1.2"/>
<circle cx="473.72" cy="543.40" r="2.5" fill="#fff" stroke="#000" stroke-width="1.2"/>
<circle cx="480.69" cy="509.80" r="2.5" fill="#fff" stroke="#000" stroke-width="1.2"/>
<circle cx="487.66" cy="482.80" r="2.5" fill="#fff" stroke="#000" stroke-width="1.2"/>
<circle cx="494.64" cy="464.70" r="2.5" fill="#fff" stroke="#000" stroke-width="1.2"/>
<path d="M451.71,568.65 L452.24,568.59 L452.78,568.53 L453.32,568.45 L453.85,568.37 L454.39,568.29 L454.93,568.19 L455.46,568.08 L456.00,567.96 L456.54,567.83 L457.07,567.68 L457.61,567.52 L458.15,567.34 L458.68,567.14 L459.22,566.92 L459.76,566.68 L460.29,566.41 L460.83,566.11 L461.37,565.79 L461.90,565.43 L462.44,565.04 L462.98,564.61 L463.51,564.13 L464.05,563.61 L464.59,563.03 L465.12,562.41 L465.66,561.72 L466.20,560.97 L466.73,560.15 L467.27,559.26 L467.81,558.28 L468.34,557.23 L468.88,556.08 L469.42,554.85 L469.95,553.51 L470.49,552.08 L471.03,550.53 L471.56,548.88 L472.10,547.12 L472.64,545.25 L473.17,543.27 L473.71,541.17 L474.25,538.97 L474.78,536.66 L475.32,534.26 L475.86,531.76 L476.39,529.18 L476.93,526.53 L477.47,523.82 L478.00,521.06 L478.54,518.26 L479.07,515.45 L479.61,512.63 L480.15,509.82 L480.68,507.03 L481.22,504.29 L481.76,501.59 L482.29,498.96 L482.83,496.41 L483.37,493.94 L483.90,491.56 L484.44,489.29 L484.98,487.12 L485.51,485.05 L486.05,483.10 L486.59,481.26 L487.12,479.54 L487.66,477.92 L488.20,476.41 L488.73,475.00 L489.27,473.70 L489.81,472.49 L490.34,471.37 L490.88,470.34 L491.42,469.40 L491.95,468.53 L492.49,467.73 L493.03,467.00 L493.56,466.33 L494.10,465.72 L494.64,465.16" fill="none" stroke="#000" stroke-width="0.8"/>
<path d="M451.71,568.18 L452.24,568.09 L452.78,567.98 L453.32,567.87 L453.85,567.76 L454.39,567.63 L454.93,567.48 L455.46,567.33 L456.00,567.16 L456.54,566.98 L457.07,566.78 L457.61,566.56 L458.15,566.33 L458.68,566.08 L459.22,565.80 L459.76,565.50 L460.29,565.17 L460.83,564.82 L461.37,564.43 L461.90,564.02 L462.44,563.57 L462.98,563.08 L463.51,562.56 L464.05,561.99 L464.59,561.37 L465.12,560.71 L465.66,560.00 L466.20,559.23 L466.73,558.41 L467.27,557.52 L467.81,556.57 L468.34,555.56 L468.88,554.47 L469.42,553.31 L469.95,552.08 L470.49,550.76 L471.03,549.37 L471.56,547.89 L472.10,546.34 L472.64,544.69 L473.17,542.97 L473.71,541.15 L474.25,539.26 L474.78,537.29 L475.32,535.23 L475.86,533.10 L476.39,530.90 L476.93,528.64 L477.47,526.32 L478.00,523.94 L478.54,521.52 L479.07,519.07 L479.61,516.58 L480.15,514.08 L480.68,511.57 L481.22,509.06 L481.76,506.56 L482.29,504.07 L482.83,501.62 L483.37,499.20 L483.90,496.83 L484.44,494.52 L484.98,492.26 L485.51,490.06 L486.05,487.94 L486.59,485.89 L487.12,483.93 L487.66,482.04 L488.20,480.23 L488.73,478.51 L489.27,476.88 L489.81,475.33 L490.34,473.86 L490.88,472.47 L491.42,471.16 L491.95,469.94 L492.49,468.78 L493.03,467.70 L493.56,466.69 L494.10,465.75 L494.64,464.87" fill="none" stroke="#000" stroke-width="0.8"/>
<path d="M473.72,541.60V547.60M471.52,541.60h4.40M471.52,547.60h4.40" fill="none" stroke="#000" stroke-width="0.9"/>
<path d="M480.69,500.90V507.90M478.49,500.90h4.40M478.49,507.90h4.40" fill="none" stroke="#000" stroke-width="0.9"/>
<path d="M487.66,476.40V482.40M485.46,476.40h4.40M485.46,482.40h4.40" fill="none" stroke="#000" stroke-width="0.9"/>
<path d="M494.64,457.70V471.70M492.44,457.70h4.40M492.44,471.70h4.40" fill="none" stroke="#000" stroke-width="0.9"/>
<circle cx="410.97" cy="569.20" r="2.5" fill="#000"/>
<circle cx="417.95" cy="569.20" r="2.5" fill="#000"/>
<circle cx="424.92" cy="569.20" r="2.5" fill="#000"/>
<circle cx="431.89" cy="569.20" r="2.5" fill="#000"/>
<circle cx="438.86" cy="568.90" r="2.5" fill="#000"/>
<circle cx="445.83" cy="568.20" r="2.5" fill="#000"/>
<circle cx="452.80" cy="567.20" r="2.5" fill="#000"/>
<circle cx="459.78" cy="564.20" r="2.5" fill="#000"/>
<circle cx="466.75" cy="558.20" r="2.5" fill="#000"/>
<circle cx="473.72" cy="544.60" r="2.5" fill="#000"/>
<circle cx="480.69" cy="504.40" r="2.5" fill="#000"/>
<circle cx="487.66" cy="479.40" r="2.5" fill="#000"/>
<circle cx="494.64" cy="464.70" r="2.5" fill="#000"/>
<line x1="215.10" y1="454.76" x2="317.5" y2="454.76" stroke="#555" stroke-width="1.1" stroke-dasharray="1.1 2.55"/>
<line x1="213.30" y1="479.73" x2="317.5" y2="479.73" stroke="#777" stroke-width="1.2" stroke-dasharray="3.3 2.78"/>
<text x="293.95" y="450.80" font-size="10.51" fill="#222" textLength="24.95" lengthAdjust="spacingAndGlyphs">LLoQ</text>
<text x="297.05" y="474.90" font-size="10.51" fill="#222" textLength="18.71" lengthAdjust="spacingAndGlyphs">LoD</text>
<rect x="211.82" y="449.45" width="1.35" height="120.15" fill="#000"/>
<rect x="211.80" y="568.23" width="106.55" height="1.35" fill="#000"/>
<rect x="207.40" y="568.35" width="4.40" height="1.1" fill="#000"/>
<text x="206.60" y="572.20" font-size="9.10" fill="#000" font-weight="bold" text-anchor="end" textLength="5.06" lengthAdjust="spacingAndGlyphs">0</text>
<rect x="207.40" y="538.62" width="4.40" height="1.1" fill="#000"/>
<text x="206.60" y="542.47" font-size="9.10" fill="#000" font-weight="bold" text-anchor="end" textLength="10.12" lengthAdjust="spacingAndGlyphs">50</text>
<rect x="207.40" y="508.90" width="4.40" height="1.1" fill="#000"/>
<text x="206.60" y="512.75" font-size="9.10" fill="#000" font-weight="bold" text-anchor="end" textLength="15.18" lengthAdjust="spacingAndGlyphs">100</text>
<rect x="207.40" y="479.18" width="4.40" height="1.1" fill="#000"/>
<text x="206.60" y="483.03" font-size="9.10" fill="#000" font-weight="bold" text-anchor="end" textLength="15.18" lengthAdjust="spacingAndGlyphs">150</text>
<rect x="207.40" y="449.45" width="4.40" height="1.1" fill="#000"/>
<text x="206.60" y="453.30" font-size="9.10" fill="#000" font-weight="bold" text-anchor="end" textLength="15.18" lengthAdjust="spacingAndGlyphs">200</text>
<rect x="211.82" y="569.50" width="1.35" height="4.80" fill="#000"/>
<text transform="translate(215.70,582.70) rotate(-45)" font-size="9.00" font-weight="bold" text-anchor="end" textLength="17.52" lengthAdjust="spacingAndGlyphs">0.01</text>
<rect x="229.50" y="569.50" width="1.1" height="4.80" fill="#000"/>
<text transform="translate(233.25,582.70) rotate(-45)" font-size="9.00" font-weight="bold" text-anchor="end" textLength="12.51" lengthAdjust="spacingAndGlyphs">0.1</text>
<rect x="247.05" y="569.50" width="1.1" height="4.80" fill="#000"/>
<text transform="translate(250.80,582.70) rotate(-45)" font-size="9.00" font-weight="bold" text-anchor="end" textLength="5.01" lengthAdjust="spacingAndGlyphs">1</text>
<rect x="264.60" y="569.50" width="1.1" height="4.80" fill="#000"/>
<text transform="translate(268.35,582.70) rotate(-45)" font-size="9.00" font-weight="bold" text-anchor="end" textLength="10.01" lengthAdjust="spacingAndGlyphs">10</text>
<rect x="282.15" y="569.50" width="1.1" height="4.80" fill="#000"/>
<text transform="translate(285.90,582.70) rotate(-45)" font-size="9.00" font-weight="bold" text-anchor="end" textLength="15.02" lengthAdjust="spacingAndGlyphs">100</text>
<rect x="299.70" y="569.50" width="1.1" height="4.80" fill="#000"/>
<text transform="translate(303.45,582.70) rotate(-45)" font-size="9.00" font-weight="bold" text-anchor="end" textLength="20.02" lengthAdjust="spacingAndGlyphs">1000</text>
<rect x="317.25" y="569.50" width="1.1" height="4.80" fill="#000"/>
<text transform="translate(321.00,582.70) rotate(-45)" font-size="9.00" font-weight="bold" text-anchor="end" textLength="25.03" lengthAdjust="spacingAndGlyphs">10000</text>
<text transform="translate(185.40,509.45) rotate(-90)" font-size="9.93" font-weight="bold" text-anchor="middle" textLength="125.83" lengthAdjust="spacingAndGlyphs">SureFire assay signal (AU)</text>
<text x="201.50" y="613.20" font-size="9.93" fill="#000" font-weight="bold" textLength="127.99" lengthAdjust="spacingAndGlyphs">WT standard conc. (pg/mL)</text>
<path d="M222.59,493.22V519.38M220.29,493.22h4.60M220.29,519.38h4.60" fill="none" stroke="#000" stroke-width="0.9"/>
<path d="M229.57,493.99V509.45M227.27,493.99h4.60M227.27,509.45h4.60" fill="none" stroke="#000" stroke-width="0.9"/>
<path d="M236.56,509.21V522.29M234.26,509.21h4.60M234.26,522.29h4.60" fill="none" stroke="#000" stroke-width="0.9"/>
<path d="M243.54,501.48V515.28M241.24,501.48h4.60M241.24,515.28h4.60" fill="none" stroke="#000" stroke-width="0.9"/>
<path d="M250.53,499.94V510.64M248.23,499.94h4.60M248.23,510.64h4.60" fill="none" stroke="#000" stroke-width="0.9"/>
<path d="M257.51,504.46V519.91M255.21,504.46h4.60M255.21,519.91h4.60" fill="none" stroke="#000" stroke-width="0.9"/>
<path d="M264.49,483.23V523.06M262.19,483.23h4.60M262.19,523.06h4.60" fill="none" stroke="#000" stroke-width="0.9"/>
<path d="M271.48,504.10V530.26M269.18,504.10h4.60M269.18,530.26h4.60" fill="none" stroke="#000" stroke-width="0.9"/>
<path d="M278.46,506.83V524.67M276.16,506.83h4.60M276.16,524.67h4.60" fill="none" stroke="#000" stroke-width="0.9"/>
<path d="M285.45,502.32V505.88M283.15,502.32h4.60M283.15,505.88h4.60" fill="none" stroke="#000" stroke-width="0.9"/>
<path d="M292.43,500.83V522.23M290.13,500.83h4.60M290.13,522.23h4.60" fill="none" stroke="#000" stroke-width="0.9"/>
<path d="M299.41,507.84V514.38M297.11,507.84h4.60M297.11,514.38h4.60" fill="none" stroke="#000" stroke-width="0.9"/>
<path d="M306.40,505.59V510.34M304.10,505.59h4.60M304.10,510.34h4.60" fill="none" stroke="#000" stroke-width="0.9"/>
<circle cx="222.59" cy="506.30" r="2.5" fill="#fff" stroke="#000" stroke-width="1.2"/>
<circle cx="229.57" cy="501.72" r="2.5" fill="#fff" stroke="#000" stroke-width="1.2"/>
<circle cx="236.56" cy="515.75" r="2.5" fill="#fff" stroke="#000" stroke-width="1.2"/>
<circle cx="243.54" cy="508.38" r="2.5" fill="#fff" stroke="#000" stroke-width="1.2"/>
<circle cx="250.53" cy="505.29" r="2.5" fill="#fff" stroke="#000" stroke-width="1.2"/>
<circle cx="257.51" cy="512.18" r="2.5" fill="#fff" stroke="#000" stroke-width="1.2"/>
<circle cx="264.49" cy="503.15" r="2.5" fill="#fff" stroke="#000" stroke-width="1.2"/>
<circle cx="271.48" cy="517.18" r="2.5" fill="#fff" stroke="#000" stroke-width="1.2"/>
<circle cx="278.46" cy="515.75" r="2.5" fill="#fff" stroke="#000" stroke-width="1.2"/>
<circle cx="285.45" cy="504.10" r="2.5" fill="#fff" stroke="#000" stroke-width="1.2"/>
<circle cx="292.43" cy="511.53" r="2.5" fill="#fff" stroke="#000" stroke-width="1.2"/>
<circle cx="299.41" cy="511.11" r="2.5" fill="#fff" stroke="#000" stroke-width="1.2"/>
<circle cx="306.40" cy="507.96" r="2.5" fill="#fff" stroke="#000" stroke-width="1.2"/>
<path d="M222.59,489.53V503.45M220.29,489.53h4.60M220.29,503.45h4.60" fill="none" stroke="#000" stroke-width="0.9"/>
<path d="M229.57,486.03V509.81M227.27,486.03h4.60M227.27,509.81h4.60" fill="none" stroke="#000" stroke-width="0.9"/>
<path d="M236.56,500.53V517.18M234.26,500.53h4.60M234.26,517.18h4.60" fill="none" stroke="#000" stroke-width="0.9"/>
<path d="M243.54,487.57V505.41M241.24,487.57h4.60M241.24,505.41h4.60" fill="none" stroke="#000" stroke-width="0.9"/>
<path d="M250.53,485.13V499.40M248.23,485.13h4.60M248.23,499.40h4.60" fill="none" stroke="#000" stroke-width="0.9"/>
<path d="M257.51,462.31V520.09M255.21,462.31h4.60M255.21,520.09h4.60" fill="none" stroke="#000" stroke-width="0.9"/>
<path d="M264.49,503.92V508.68M262.19,503.92h4.60M262.19,508.68h4.60" fill="none" stroke="#000" stroke-width="0.9"/>
<path d="M271.48,487.87V519.26M269.18,487.87h4.60M269.18,519.26h4.60" fill="none" stroke="#000" stroke-width="0.9"/>
<path d="M278.46,488.52V509.45M276.16,488.52h4.60M276.16,509.45h4.60" fill="none" stroke="#000" stroke-width="0.9"/>
<path d="M285.45,497.92V510.52M283.15,497.92h4.60M283.15,510.52h4.60" fill="none" stroke="#000" stroke-width="0.9"/>
<path d="M292.43,494.53V499.28M290.13,494.53h4.60M290.13,499.28h4.60" fill="none" stroke="#000" stroke-width="0.9"/>
<path d="M299.41,502.26V507.01M297.11,502.26h4.60M297.11,507.01h4.60" fill="none" stroke="#000" stroke-width="0.9"/>
<path d="M306.40,495.60V517.00M304.10,495.60h4.60M304.10,517.00h4.60" fill="none" stroke="#000" stroke-width="0.9"/>
<circle cx="222.59" cy="496.49" r="2.5" fill="#000"/>
<circle cx="229.57" cy="497.92" r="2.5" fill="#000"/>
<circle cx="236.56" cy="508.86" r="2.5" fill="#000"/>
<circle cx="243.54" cy="496.49" r="2.5" fill="#000"/>
<circle cx="250.53" cy="492.27" r="2.5" fill="#000"/>
<circle cx="257.51" cy="491.20" r="2.5" fill="#000"/>
<circle cx="264.49" cy="506.30" r="2.5" fill="#000"/>
<circle cx="271.48" cy="503.56" r="2.5" fill="#000"/>
<circle cx="278.46" cy="498.99" r="2.5" fill="#000"/>
<circle cx="285.45" cy="504.22" r="2.5" fill="#000"/>
<circle cx="292.43" cy="496.91" r="2.5" fill="#000"/>
<circle cx="299.41" cy="504.63" r="2.5" fill="#000"/>
<circle cx="306.40" cy="506.30" r="2.5" fill="#000"/>
<rect x="188.00" y="352.41" width="3.10" height="16.69" fill="#000"/>
<rect x="192.65" y="348.59" width="2.80" height="20.51" fill="#fff" stroke="#1a1a1a" stroke-width="0.7"/>
<rect x="199.88" y="347.35" width="3.10" height="21.75" fill="#000"/>
<rect x="204.53" y="312.83" width="2.80" height="56.27" fill="#fff" stroke="#1a1a1a" stroke-width="0.7"/>
<rect x="211.76" y="336.92" width="3.10" height="32.18" fill="#000"/>
<rect x="216.41" y="352.76" width="2.80" height="16.34" fill="#fff" stroke="#1a1a1a" stroke-width="0.7"/>
<rect x="223.64" y="282.08" width="3.10" height="87.02" fill="#000"/>
<rect x="228.29" y="362.60" width="2.80" height="6.50" fill="#fff" stroke="#1a1a1a" stroke-width="0.7"/>
<rect x="235.52" y="309.50" width="3.10" height="59.60" fill="#000"/>
<rect x="240.17" y="354.85" width="2.80" height="14.25" fill="#fff" stroke="#1a1a1a" stroke-width="0.7"/>
<rect x="247.40" y="283.28" width="3.10" height="85.82" fill="#000"/>
<rect x="252.05" y="361.28" width="2.80" height="7.82" fill="#fff" stroke="#1a1a1a" stroke-width="0.7"/>
<rect x="259.28" y="354.20" width="3.10" height="14.90" fill="#000"/>
<rect x="263.93" y="361.70" width="2.80" height="7.40" fill="#fff" stroke="#1a1a1a" stroke-width="0.7"/>
<rect x="271.16" y="282.08" width="3.10" height="87.02" fill="#000"/>
<rect x="275.81" y="350.38" width="2.80" height="18.72" fill="#fff" stroke="#1a1a1a" stroke-width="0.7"/>
<rect x="283.04" y="347.64" width="3.10" height="21.46" fill="#000"/>
<rect x="287.69" y="365.28" width="2.80" height="3.82" fill="#fff" stroke="#1a1a1a" stroke-width="0.7"/>
<rect x="294.92" y="363.14" width="3.10" height="5.96" fill="#000"/>
<rect x="299.57" y="327.73" width="2.80" height="41.37" fill="#fff" stroke="#1a1a1a" stroke-width="0.7"/>
<rect x="306.80" y="336.32" width="3.10" height="32.78" fill="#000"/>
<rect x="311.45" y="345.61" width="2.80" height="23.49" fill="#fff" stroke="#1a1a1a" stroke-width="0.7"/>
<rect x="318.68" y="354.80" width="3.10" height="14.30" fill="#000"/>
<rect x="323.33" y="342.03" width="2.80" height="27.07" fill="#fff" stroke="#1a1a1a" stroke-width="0.7"/>
<line x1="186.50" y1="309.50" x2="326.20" y2="309.50" stroke="#000" stroke-width="1.5" stroke-dasharray="3.9 3.0"/>
<rect x="185.82" y="249.35" width="1.35" height="120.45" fill="#000"/>
<rect x="185.80" y="368.43" width="141.40" height="1.35" fill="#000"/>
<rect x="181.40" y="368.55" width="4.40" height="1.1" fill="#000"/>
<text x="180.60" y="372.40" font-size="9.10" fill="#000" font-weight="bold" text-anchor="end" textLength="5.06" lengthAdjust="spacingAndGlyphs">0</text>
<rect x="181.40" y="338.75" width="4.40" height="1.1" fill="#000"/>
<text x="180.60" y="342.60" font-size="9.10" fill="#000" font-weight="bold" text-anchor="end" textLength="5.06" lengthAdjust="spacingAndGlyphs">5</text>
<rect x="181.40" y="308.95" width="4.40" height="1.1" fill="#000"/>
<text x="180.60" y="312.80" font-size="9.10" fill="#000" font-weight="bold" text-anchor="end" textLength="10.12" lengthAdjust="spacingAndGlyphs">10</text>
<rect x="181.40" y="279.15" width="4.40" height="1.1" fill="#000"/>
<text x="180.60" y="283.00" font-size="9.10" fill="#000" font-weight="bold" text-anchor="end" textLength="10.12" lengthAdjust="spacingAndGlyphs">15</text>
<rect x="181.40" y="249.35" width="4.40" height="1.1" fill="#000"/>
<text x="180.60" y="253.20" font-size="9.10" fill="#000" font-weight="bold" text-anchor="end" textLength="10.12" lengthAdjust="spacingAndGlyphs">20</text>
<rect x="190.75" y="369.70" width="1.1" height="4.6" fill="#000"/>
<text transform="translate(195.00,382.70) rotate(-45)" font-size="9.00" font-weight="bold" text-anchor="end" textLength="22.52" lengthAdjust="spacingAndGlyphs">0.094</text>
<rect x="202.63" y="369.70" width="1.1" height="4.6" fill="#000"/>
<text transform="translate(206.88,382.70) rotate(-45)" font-size="9.00" font-weight="bold" text-anchor="end" textLength="17.52" lengthAdjust="spacingAndGlyphs">0.23</text>
<rect x="214.51" y="369.70" width="1.1" height="4.6" fill="#000"/>
<text transform="translate(218.76,382.70) rotate(-45)" font-size="9.00" font-weight="bold" text-anchor="end" textLength="17.52" lengthAdjust="spacingAndGlyphs">0.59</text>
<rect x="226.39" y="369.70" width="1.1" height="4.6" fill="#000"/>
<text transform="translate(230.64,382.70) rotate(-45)" font-size="9.00" font-weight="bold" text-anchor="end" textLength="17.52" lengthAdjust="spacingAndGlyphs">1.47</text>
<rect x="238.27" y="369.70" width="1.1" height="4.6" fill="#000"/>
<text transform="translate(242.52,382.70) rotate(-45)" font-size="9.00" font-weight="bold" text-anchor="end" textLength="17.52" lengthAdjust="spacingAndGlyphs">3.67</text>
<rect x="250.15" y="369.70" width="1.1" height="4.6" fill="#000"/>
<text transform="translate(254.40,382.70) rotate(-45)" font-size="9.00" font-weight="bold" text-anchor="end" textLength="17.52" lengthAdjust="spacingAndGlyphs">9.18</text>
<rect x="262.03" y="369.70" width="1.1" height="4.6" fill="#000"/>
<text transform="translate(266.28,382.70) rotate(-45)" font-size="9.00" font-weight="bold" text-anchor="end" textLength="22.52" lengthAdjust="spacingAndGlyphs">22.94</text>
<rect x="273.91" y="369.70" width="1.1" height="4.6" fill="#000"/>
<text transform="translate(278.16,382.70) rotate(-45)" font-size="9.00" font-weight="bold" text-anchor="end" textLength="22.52" lengthAdjust="spacingAndGlyphs">57.34</text>
<rect x="285.79" y="369.70" width="1.1" height="4.6" fill="#000"/>
<text transform="translate(290.04,382.70) rotate(-45)" font-size="9.00" font-weight="bold" text-anchor="end" textLength="27.53" lengthAdjust="spacingAndGlyphs">143.36</text>
<rect x="297.67" y="369.70" width="1.1" height="4.6" fill="#000"/>
<text transform="translate(301.92,382.70) rotate(-45)" font-size="9.00" font-weight="bold" text-anchor="end" textLength="22.52" lengthAdjust="spacingAndGlyphs">358.4</text>
<rect x="309.55" y="369.70" width="1.1" height="4.6" fill="#000"/>
<text transform="translate(313.80,382.70) rotate(-45)" font-size="9.00" font-weight="bold" text-anchor="end" textLength="15.02" lengthAdjust="spacingAndGlyphs">896</text>
<rect x="321.43" y="369.70" width="1.1" height="4.6" fill="#000"/>
<text transform="translate(325.68,382.70) rotate(-45)" font-size="9.00" font-weight="bold" text-anchor="end" textLength="20.02" lengthAdjust="spacingAndGlyphs">2240</text>
<text transform="translate(164.50,309.50) rotate(-90)" font-size="9.93" font-weight="bold" text-anchor="middle" textLength="80.56" lengthAdjust="spacingAndGlyphs">%variation (RSD)</text>
<text x="190.00" y="414.60" font-size="9.93" fill="#000" font-weight="bold" textLength="141.81" lengthAdjust="spacingAndGlyphs">pS129 standard conc. (pg/mL)</text>
<rect x="194" y="250.9" width="13" height="5.7" fill="#000"/>
<rect x="194.35" y="266.95" width="12.3" height="5.5" fill="#fff" stroke="#1a1a1a" stroke-width="0.7"/>
<text x="213.70" y="257.10" font-size="9.85" fill="#000" textLength="31.75" lengthAdjust="spacingAndGlyphs">Human</text>
<text x="213.70" y="272.90" font-size="9.85" fill="#000" textLength="29.57" lengthAdjust="spacingAndGlyphs">Mouse</text>
<rect x="542.50" y="318.95" width="3.30" height="47.95" fill="#000"/>
<rect x="547.75" y="338.83" width="2.95" height="28.07" fill="#fff" stroke="#1a1a1a" stroke-width="0.7"/>
<rect x="556.75" y="269.81" width="3.30" height="97.09" fill="#000"/>
<rect x="562.00" y="351.86" width="2.95" height="15.04" fill="#fff" stroke="#1a1a1a" stroke-width="0.7"/>
<rect x="571.00" y="308.88" width="3.30" height="58.02" fill="#000"/>
<rect x="576.25" y="338.83" width="2.95" height="28.07" fill="#fff" stroke="#1a1a1a" stroke-width="0.7"/>
<rect x="585.25" y="343.22" width="3.30" height="23.68" fill="#000"/>
<rect x="590.50" y="328.18" width="2.95" height="38.72" fill="#fff" stroke="#1a1a1a" stroke-width="0.7"/>
<rect x="599.50" y="312.44" width="3.30" height="54.46" fill="#000"/>
<rect x="604.75" y="311.60" width="2.95" height="55.30" fill="#fff" stroke="#1a1a1a" stroke-width="0.7"/>
<rect x="613.75" y="346.18" width="3.30" height="20.72" fill="#000"/>
<rect x="619.00" y="348.31" width="2.95" height="18.59" fill="#fff" stroke="#1a1a1a" stroke-width="0.7"/>
<rect x="628.00" y="307.70" width="3.30" height="59.20" fill="#000"/>
<rect x="633.25" y="357.78" width="2.95" height="9.12" fill="#fff" stroke="#1a1a1a" stroke-width="0.7"/>
<rect x="642.25" y="334.34" width="3.30" height="32.56" fill="#000"/>
<rect x="647.50" y="348.90" width="2.95" height="18.00" fill="#fff" stroke="#1a1a1a" stroke-width="0.7"/>
<rect x="656.50" y="289.94" width="3.30" height="76.96" fill="#000"/>
<rect x="661.75" y="325.22" width="2.95" height="41.68" fill="#fff" stroke="#1a1a1a" stroke-width="0.7"/>
<rect x="670.75" y="329.60" width="3.30" height="37.30" fill="#000"/>
<rect x="676.00" y="315.75" width="2.95" height="51.15" fill="#fff" stroke="#1a1a1a" stroke-width="0.7"/>
<line x1="540.30" y1="307.70" x2="680.50" y2="307.70" stroke="#000" stroke-width="1.5" stroke-dasharray="3.9 3.0"/>
<rect x="539.62" y="247.95" width="1.35" height="119.65" fill="#000"/>
<rect x="539.60" y="366.22" width="141.90" height="1.35" fill="#000"/>
<rect x="535.20" y="366.35" width="4.40" height="1.1" fill="#000"/>
<text x="534.40" y="370.20" font-size="9.10" fill="#000" font-weight="bold" text-anchor="end" textLength="5.06" lengthAdjust="spacingAndGlyphs">0</text>
<rect x="535.20" y="336.75" width="4.40" height="1.1" fill="#000"/>
<text x="534.40" y="340.60" font-size="9.10" fill="#000" font-weight="bold" text-anchor="end" textLength="5.06" lengthAdjust="spacingAndGlyphs">5</text>
<rect x="535.20" y="307.15" width="4.40" height="1.1" fill="#000"/>
<text x="534.40" y="311.00" font-size="9.10" fill="#000" font-weight="bold" text-anchor="end" textLength="10.12" lengthAdjust="spacingAndGlyphs">10</text>
<rect x="535.20" y="277.55" width="4.40" height="1.1" fill="#000"/>
<text x="534.40" y="281.40" font-size="9.10" fill="#000" font-weight="bold" text-anchor="end" textLength="10.12" lengthAdjust="spacingAndGlyphs">15</text>
<rect x="535.20" y="247.95" width="4.40" height="1.1" fill="#000"/>
<text x="534.40" y="251.80" font-size="9.10" fill="#000" font-weight="bold" text-anchor="end" textLength="10.12" lengthAdjust="spacingAndGlyphs">20</text>
<rect x="545.65" y="367.50" width="1.1" height="4.6" fill="#000"/>
<text transform="translate(549.90,380.50) rotate(-45)" font-size="9.00" font-weight="bold" text-anchor="end" textLength="17.52" lengthAdjust="spacingAndGlyphs">0.59</text>
<rect x="559.90" y="367.50" width="1.1" height="4.6" fill="#000"/>
<text transform="translate(564.15,380.50) rotate(-45)" font-size="9.00" font-weight="bold" text-anchor="end" textLength="17.52" lengthAdjust="spacingAndGlyphs">1.47</text>
<rect x="574.15" y="367.50" width="1.1" height="4.6" fill="#000"/>
<text transform="translate(578.40,380.50) rotate(-45)" font-size="9.00" font-weight="bold" text-anchor="end" textLength="17.52" lengthAdjust="spacingAndGlyphs">3.67</text>
<rect x="588.40" y="367.50" width="1.1" height="4.6" fill="#000"/>
<text transform="translate(592.65,380.50) rotate(-45)" font-size="9.00" font-weight="bold" text-anchor="end" textLength="17.52" lengthAdjust="spacingAndGlyphs">9.18</text>
<rect x="602.65" y="367.50" width="1.1" height="4.6" fill="#000"/>
<text transform="translate(606.90,380.50) rotate(-45)" font-size="9.00" font-weight="bold" text-anchor="end" textLength="22.52" lengthAdjust="spacingAndGlyphs">22.94</text>
<rect x="616.90" y="367.50" width="1.1" height="4.6" fill="#000"/>
<text transform="translate(621.15,380.50) rotate(-45)" font-size="9.00" font-weight="bold" text-anchor="end" textLength="22.52" lengthAdjust="spacingAndGlyphs">57.34</text>
<rect x="631.15" y="367.50" width="1.1" height="4.6" fill="#000"/>
<text transform="translate(635.40,380.50) rotate(-45)" font-size="9.00" font-weight="bold" text-anchor="end" textLength="27.53" lengthAdjust="spacingAndGlyphs">143.36</text>
<rect x="645.40" y="367.50" width="1.1" height="4.6" fill="#000"/>
<text transform="translate(649.65,380.50) rotate(-45)" font-size="9.00" font-weight="bold" text-anchor="end" textLength="22.52" lengthAdjust="spacingAndGlyphs">358.4</text>
<rect x="659.65" y="367.50" width="1.1" height="4.6" fill="#000"/>
<text transform="translate(663.90,380.50) rotate(-45)" font-size="9.00" font-weight="bold" text-anchor="end" textLength="15.02" lengthAdjust="spacingAndGlyphs">896</text>
<rect x="673.90" y="367.50" width="1.1" height="4.6" fill="#000"/>
<text transform="translate(678.15,380.50) rotate(-45)" font-size="9.00" font-weight="bold" text-anchor="end" textLength="20.02" lengthAdjust="spacingAndGlyphs">2240</text>
<text transform="translate(517.80,307.70) rotate(-90)" font-size="9.93" font-weight="bold" text-anchor="middle" textLength="80.56" lengthAdjust="spacingAndGlyphs">%variation (RSD)</text>
<text x="540.20" y="412.70" font-size="9.93" fill="#000" font-weight="bold" textLength="141.81" lengthAdjust="spacingAndGlyphs">pS129 standard conc. (pg/mL)</text>
<rect x="545.60" y="479.15" width="3.50" height="89.84" fill="#000"/>
<rect x="551.25" y="559.83" width="2.90" height="9.17" fill="#fff" stroke="#1a1a1a" stroke-width="0.7"/>
<rect x="559.87" y="518.42" width="3.50" height="50.58" fill="#000"/>
<rect x="565.52" y="530.08" width="2.90" height="38.92" fill="#fff" stroke="#1a1a1a" stroke-width="0.7"/>
<rect x="574.14" y="511.29" width="3.50" height="57.71" fill="#000"/>
<rect x="579.79" y="516.99" width="2.90" height="52.01" fill="#fff" stroke="#1a1a1a" stroke-width="0.7"/>
<rect x="588.41" y="495.22" width="3.50" height="73.78" fill="#000"/>
<rect x="594.06" y="517.59" width="2.90" height="51.41" fill="#fff" stroke="#1a1a1a" stroke-width="0.7"/>
<rect x="602.68" y="513.66" width="3.50" height="55.34" fill="#000"/>
<rect x="608.33" y="526.51" width="2.90" height="42.49" fill="#fff" stroke="#1a1a1a" stroke-width="0.7"/>
<rect x="616.95" y="512.48" width="3.50" height="56.52" fill="#000"/>
<rect x="622.60" y="522.94" width="2.90" height="46.06" fill="#fff" stroke="#1a1a1a" stroke-width="0.7"/>
<rect x="631.22" y="492.84" width="3.50" height="76.16" fill="#000"/>
<rect x="636.87" y="518.18" width="2.90" height="50.82" fill="#fff" stroke="#1a1a1a" stroke-width="0.7"/>
<rect x="645.49" y="541.03" width="3.50" height="27.97" fill="#000"/>
<rect x="651.14" y="535.44" width="2.90" height="33.56" fill="#fff" stroke="#1a1a1a" stroke-width="0.7"/>
<rect x="659.76" y="538.06" width="3.50" height="30.94" fill="#000"/>
<rect x="665.41" y="537.22" width="2.90" height="31.78" fill="#fff" stroke="#1a1a1a" stroke-width="0.7"/>
<rect x="674.03" y="535.09" width="3.50" height="33.91" fill="#000"/>
<rect x="679.68" y="529.49" width="2.90" height="39.52" fill="#fff" stroke="#1a1a1a" stroke-width="0.7"/>
<line x1="543.70" y1="509.50" x2="684.50" y2="509.50" stroke="#000" stroke-width="1.5" stroke-dasharray="3.9 3.0"/>
<rect x="543.03" y="449.45" width="1.35" height="120.25" fill="#000"/>
<rect x="543.00" y="568.33" width="142.50" height="1.35" fill="#000"/>
<rect x="538.60" y="568.45" width="4.40" height="1.1" fill="#000"/>
<text x="537.80" y="572.30" font-size="9.10" fill="#000" font-weight="bold" text-anchor="end" textLength="5.06" lengthAdjust="spacingAndGlyphs">0</text>
<rect x="538.60" y="538.70" width="4.40" height="1.1" fill="#000"/>
<text x="537.80" y="542.55" font-size="9.10" fill="#000" font-weight="bold" text-anchor="end" textLength="5.06" lengthAdjust="spacingAndGlyphs">5</text>
<rect x="538.60" y="508.95" width="4.40" height="1.1" fill="#000"/>
<text x="537.80" y="512.80" font-size="9.10" fill="#000" font-weight="bold" text-anchor="end" textLength="10.12" lengthAdjust="spacingAndGlyphs">10</text>
<rect x="538.60" y="479.20" width="4.40" height="1.1" fill="#000"/>
<text x="537.80" y="483.05" font-size="9.10" fill="#000" font-weight="bold" text-anchor="end" textLength="10.12" lengthAdjust="spacingAndGlyphs">15</text>
<rect x="538.60" y="449.45" width="4.40" height="1.1" fill="#000"/>
<text x="537.80" y="453.30" font-size="9.10" fill="#000" font-weight="bold" text-anchor="end" textLength="10.12" lengthAdjust="spacingAndGlyphs">20</text>
<rect x="548.95" y="569.60" width="1.1" height="4.6" fill="#000"/>
<text transform="translate(553.20,582.60) rotate(-45)" font-size="9.00" font-weight="bold" text-anchor="end" textLength="17.52" lengthAdjust="spacingAndGlyphs">0.59</text>
<rect x="563.22" y="569.60" width="1.1" height="4.6" fill="#000"/>
<text transform="translate(567.47,582.60) rotate(-45)" font-size="9.00" font-weight="bold" text-anchor="end" textLength="17.52" lengthAdjust="spacingAndGlyphs">1.47</text>
<rect x="577.49" y="569.60" width="1.1" height="4.6" fill="#000"/>
<text transform="translate(581.74,582.60) rotate(-45)" font-size="9.00" font-weight="bold" text-anchor="end" textLength="17.52" lengthAdjust="spacingAndGlyphs">3.67</text>
<rect x="591.76" y="569.60" width="1.1" height="4.6" fill="#000"/>
<text transform="translate(596.01,582.60) rotate(-45)" font-size="9.00" font-weight="bold" text-anchor="end" textLength="17.52" lengthAdjust="spacingAndGlyphs">9.18</text>
<rect x="606.03" y="569.60" width="1.1" height="4.6" fill="#000"/>
<text transform="translate(610.28,582.60) rotate(-45)" font-size="9.00" font-weight="bold" text-anchor="end" textLength="22.52" lengthAdjust="spacingAndGlyphs">22.94</text>
<rect x="620.30" y="569.60" width="1.1" height="4.6" fill="#000"/>
<text transform="translate(624.55,582.60) rotate(-45)" font-size="9.00" font-weight="bold" text-anchor="end" textLength="22.52" lengthAdjust="spacingAndGlyphs">57.34</text>
<rect x="634.57" y="569.60" width="1.1" height="4.6" fill="#000"/>
<text transform="translate(638.82,582.60) rotate(-45)" font-size="9.00" font-weight="bold" text-anchor="end" textLength="27.53" lengthAdjust="spacingAndGlyphs">143.36</text>
<rect x="648.84" y="569.60" width="1.1" height="4.6" fill="#000"/>
<text transform="translate(653.09,582.60) rotate(-45)" font-size="9.00" font-weight="bold" text-anchor="end" textLength="22.52" lengthAdjust="spacingAndGlyphs">358.4</text>
<rect x="663.11" y="569.60" width="1.1" height="4.6" fill="#000"/>
<text transform="translate(667.36,582.60) rotate(-45)" font-size="9.00" font-weight="bold" text-anchor="end" textLength="15.02" lengthAdjust="spacingAndGlyphs">896</text>
<rect x="677.38" y="569.60" width="1.1" height="4.6" fill="#000"/>
<text transform="translate(681.63,582.60) rotate(-45)" font-size="9.00" font-weight="bold" text-anchor="end" textLength="20.02" lengthAdjust="spacingAndGlyphs">2240</text>
<text transform="translate(521.20,509.50) rotate(-90)" font-size="9.93" font-weight="bold" text-anchor="middle" textLength="80.56" lengthAdjust="spacingAndGlyphs">%variation (RSD)</text>
<text x="550.40" y="615.10" font-size="9.93" fill="#000" font-weight="bold" textLength="127.99" lengthAdjust="spacingAndGlyphs">WT standard conc. (pg/mL)</text>
</svg></body></html>
